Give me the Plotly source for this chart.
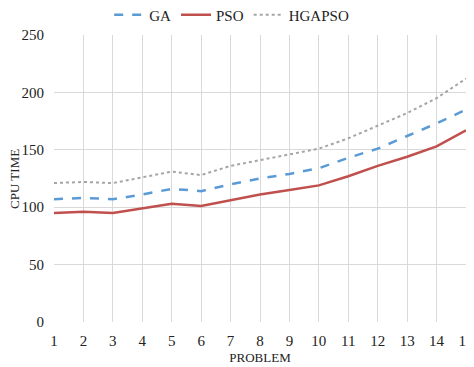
import plotly.graph_objects as go

problems = list(range(1, 16))
ga = [107, 108, 107, 111, 116, 114, 120, 125, 129, 134, 143, 151, 162, 173, 185]
pso = [95, 96, 95, 99, 103, 101, 106, 111, 115, 119, 127, 136, 144, 153, 167]
hgapso = [121, 122, 121, 126, 131, 128, 136, 141, 146, 151, 160, 171, 182, 195, 212]
y_ticks = [0, 50, 100, 150, 200, 250]

font_family = "Liberation Serif, DejaVu Serif, serif"

fig = go.Figure()
fig.add_trace(go.Scatter(x=problems, y=ga, name="GA", mode="lines",
                         line=dict(color="#5B9BD5", width=2.5, dash="dash")))
fig.add_trace(go.Scatter(x=problems, y=pso, name="PSO", mode="lines",
                         line=dict(color="#C0504D", width=2.5)))
fig.add_trace(go.Scatter(x=problems, y=hgapso, name="HGAPSO", mode="lines",
                         line=dict(color="#A5A5A5", width=2, dash="dot")))

fig.update_layout(
    width=466, height=359,
    margin=dict(l=46, r=8, t=27, b=45, autoexpand=False),
    paper_bgcolor="white", plot_bgcolor="white",
    font=dict(family=font_family, size=15, color="#222222"),
    legend=dict(orientation="h", x=0.48, xref="container", xanchor="center",
                y=1.127, yanchor="top",
                font=dict(size=15), itemwidth=30,
                bgcolor="rgba(0,0,0,0)"),
    showlegend=True,
)
fig.add_annotation(text="CPU TIME", textangle=-90, xref="paper", yref="paper",
                   x=-0.096, y=0.5, xanchor="center", yanchor="middle",
                   showarrow=False, font=dict(size=13))
fig.update_xaxes(range=[1, 15], tickmode="array", tickvals=problems,
                 showgrid=True, gridcolor="#D9D9D9", gridwidth=1,
                 zeroline=False, showline=False, ticks="", automargin=False,
                 ticklabelstandoff=8,
                 title=dict(text="PROBLEM", font=dict(size=13), standoff=4))
fig.update_yaxes(range=[0, 250], tickmode="array", tickvals=y_ticks,
                 showgrid=True, gridcolor="#D9D9D9", gridwidth=1,
                 zeroline=False, showline=False, ticks="", automargin=False,
                 ticklabelstandoff=9)

fig.write_html("out.html")
